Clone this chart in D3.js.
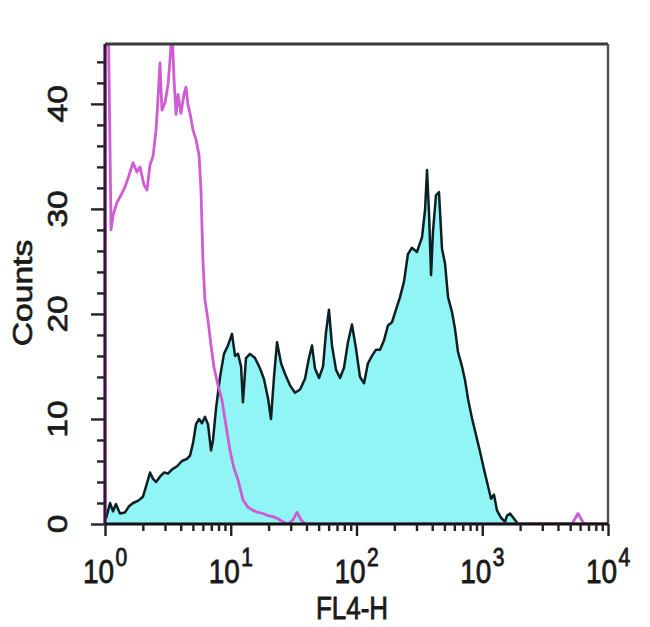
<!DOCTYPE html>
<html><head><meta charset="utf-8">
<script src="https://cdn.jsdelivr.net/npm/d3@7"></script>
<style>
html,body{margin:0;padding:0;background:#fff;}
svg{display:block;}
text{font-family:"Liberation Sans",Arial,sans-serif;fill:#1a1a1a;stroke:#1a1a1a;stroke-width:0.7px;}
</style></head>
<body>
<script>
// ---- data (log10 FL4-H channel position, counts) ----
const isoLogFL = [0.000,0.001,0.024,0.040,0.048,0.064,0.095,0.127,0.159,0.191,0.223,0.254,0.278,0.310,0.334,0.358,0.382,0.406,0.421,0.437,0.453,0.477,0.501,0.517,0.533,0.549,0.565,0.581,0.604,0.628,0.644,0.660,0.676,0.700,0.724,0.748,0.763,0.779,0.795,0.819,0.843,0.867,0.899,0.930,0.962,0.994,1.026,1.058,1.097,1.137,1.177,1.217,1.256,1.296,1.336,1.376,1.416,1.455,1.495,1.527,1.559,1.590,3.714,3.761,3.809,4.000];
const isoCounts = [0,50,50,35.6,28.0,29.4,30.6,31.3,32.1,33.2,34.4,33.5,34.0,32.3,31.8,34.2,35.0,37.5,40.4,43.9,39.4,40.1,41.8,44.2,47.0,42.3,39.0,40.9,39.1,40.9,41.6,39.9,39.1,37.5,36.6,35.1,31.9,25.0,21.3,19.4,17.0,14.9,13.2,11.8,9.4,7.0,5.3,4.2,2.3,1.6,1.3,1.1,1.0,0.8,0.7,0.5,0.2,0.0,0.4,1.1,0.4,0.0,0,1.0,0,0];

const stainLogFL = [0.008,0.040,0.064,0.087,0.119,0.159,0.191,0.223,0.262,0.302,0.334,0.358,0.382,0.406,0.437,0.469,0.501,0.533,0.573,0.612,0.652,0.676,0.700,0.724,0.748,0.771,0.795,0.819,0.843,0.859,0.883,0.915,0.946,0.978,1.010,1.034,1.058,1.082,1.097,1.121,1.153,1.193,1.233,1.264,1.296,1.320,1.344,1.368,1.400,1.431,1.471,1.511,1.551,1.590,1.622,1.646,1.670,1.702,1.734,1.757,1.781,1.805,1.837,1.869,1.901,1.932,1.964,1.996,2.028,2.060,2.091,2.123,2.155,2.187,2.219,2.250,2.282,2.314,2.346,2.378,2.409,2.441,2.481,2.521,2.545,2.561,2.577,2.593,2.608,2.632,2.656,2.680,2.704,2.728,2.759,2.783,2.807,2.839,2.863,2.887,2.918,2.950,2.982,3.014,3.046,3.070,3.093,3.117,3.149,3.181,3.197,3.221,3.253,3.284,4.000];
const stainCounts = [0.5,2.0,1.2,1.9,1.0,1.1,1.7,2.0,2.2,2.6,3.9,4.9,4.3,4.0,4.5,4.9,4.8,5.2,5.5,6.0,6.2,6.5,7.7,9.5,10.0,9.6,10.2,9.5,7.0,8.0,11.0,14.0,16.2,17.0,18.1,16.0,16.2,15.0,11.6,15.8,16.2,15.8,14.8,13.8,12.0,10.0,14.0,17.3,15.3,14.3,13.2,12.5,12.8,13.8,15.8,17.0,14.8,13.9,15.0,18.2,20.4,17.0,14.7,13.9,14.9,17.3,19.0,16.7,14.0,13.4,15.3,16.0,16.6,16.6,17.5,18.9,19.2,20.4,21.6,23.1,25.7,26.3,25.9,27.3,29.9,33.7,29.5,23.7,27.8,31.3,31.6,26.2,24.8,21.6,20.2,18.6,16.4,15.0,13.7,11.9,10.1,8.5,6.9,5.2,3.6,2.4,2.8,1.3,0.6,0.2,0.8,1.0,0.5,0,0];

const yTickValues = [0,10,20,30,40];
const yMinorValues = [2,4,6,8,12,14,16,18,22,24,26,28,32,34,36,38,42,44];
const xDecades = [1,10,100,1000,10000];
const xExponents = ["0","1","2","3","4"];
const xLabel = "FL4-H";
const yLabel = "Counts";

// ---- layout ----
const W = 650, H = 627;
const L = 105, R = 608, T = 44, B = 524;

const svg = d3.select("body").append("svg").attr("width", W).attr("height", H);

const x = d3.scaleLog().domain([1, 1e4]).range([L, R]);
const y = d3.scaleLinear().domain([0, 45.7]).range([B, T]);

svg.append("clipPath").attr("id","plotclip").append("rect")
  .attr("x", L - 2).attr("y", T).attr("width", R - L + 2).attr("height", B - T);

const stain = stainLogFL.map((e,i)=>({fl: Math.pow(10,e), c: stainCounts[i]}));
const iso = isoLogFL.map((e,i)=>({fl: Math.pow(10,e), c: isoCounts[i]}));

const g = svg.append("g").attr("clip-path","url(#plotclip)");

g.append("path").datum(stain)
  .attr("d", d3.area().x(d=>x(d.fl)).y0(y(0)).y1(d=>y(d.c)))
  .attr("fill", "#92f5f5");
g.append("path").datum(stain)
  .attr("d", d3.line().x(d=>x(d.fl)).y(d=>y(d.c)))
  .attr("fill","none").attr("stroke","#0d1f22").attr("stroke-width",2.5).attr("stroke-linejoin","round");
g.append("path").datum(iso)
  .attr("d", d3.line().x(d=>x(d.fl)).y(d=>y(d.c)))
  .attr("fill","none").attr("stroke","#cf5cd2").attr("stroke-width",2.8).attr("stroke-linejoin","round");

// frame top/right
svg.append("line").attr("x1",L).attr("x2",R).attr("y1",T).attr("y2",T).attr("stroke","#3a3a3a").attr("stroke-width",3);
svg.append("line").attr("x1",R).attr("x2",R).attr("y1",T).attr("y2",B).attr("stroke","#555").attr("stroke-width",2.5);

// y axis
const yAxisMajor = d3.axisLeft(y).tickValues(yTickValues).tickSize(14).tickFormat("");
const yAxisMinor = d3.axisLeft(y).tickValues(yMinorValues).tickSize(8).tickFormat("");
const ya = svg.append("g").attr("transform",`translate(${L},0)`).call(yAxisMajor);
svg.append("g").attr("transform",`translate(${L},0)`).call(yAxisMinor).select(".domain").remove();
ya.select(".domain").attr("stroke","#3a1240").attr("stroke-width",3).attr("d",`M0,${T}V${B}`);

// x axis
const xMinor = [];
for (let d = 1; d < 1e4; d *= 10) for (let k = 2; k <= 9; k++) xMinor.push(d*k);
const xAxisMajor = d3.axisBottom(x).tickValues(xDecades).tickSize(12).tickFormat("");
const xAxisMinor = d3.axisBottom(x).tickValues(xMinor).tickSize(7).tickFormat("");
const xa = svg.append("g").attr("transform",`translate(0,${B})`).call(xAxisMajor);
const xm = svg.append("g").attr("transform",`translate(0,${B})`).call(xAxisMinor);
xm.select(".domain").remove();
xa.select(".domain").attr("stroke","#111").attr("stroke-width",3).attr("d",`M${L},0H${R}`);
svg.selectAll(".tick line").attr("stroke","#222").attr("stroke-width",2.4);

// y tick labels
svg.selectAll(".ylab").data(yTickValues).enter().append("text")
  .attr("class","ylab")
  .attr("transform", d=>`translate(67,${y(d)}) scale(1,1.2) rotate(-90)`)
  .attr("text-anchor","middle").attr("font-size",28).text(d=>d);

// x tick labels
const xl = svg.selectAll(".xlab").data(xDecades).enter().append("g")
  .attr("class","xlab")
  .attr("transform", d=>`translate(${x(d)},583) scale(1,1.2)`);
xl.append("text").attr("x",-22).attr("font-size",28).text("10");
xl.append("text").attr("x",10.5).attr("y",-14).attr("font-size",21).text((d,i)=>xExponents[i]);

// axis titles
svg.append("text").attr("transform","translate(352,619) scale(1,1.2)")
  .attr("text-anchor","middle").attr("font-size",26).text(xLabel);
svg.append("text").attr("transform","translate(32,293) scale(1,1.2) rotate(-90)")
  .attr("text-anchor","middle").attr("font-size",28).text(yLabel);
</script>
</body></html>
